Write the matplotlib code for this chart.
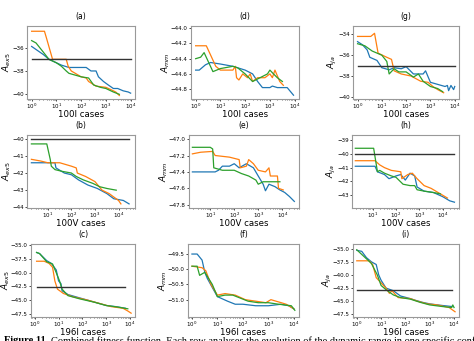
import numpy as np
import matplotlib
matplotlib.use("Agg")
import matplotlib.pyplot as plt

# --- row 1: 100I cases ---
a_blue_x = [1, 1.6, 3, 5, 10, 16, 32, 100, 160, 250, 400, 500, 800, 1250, 2000, 3000, 5000, 8000, 10000]
a_blue_y = [-35.9, -36.2, -36.6, -37.0, -37.3, -37.5, -37.7, -37.7, -37.7, -38.0, -38.0, -38.5, -38.9, -39.2, -39.5, -39.5, -39.7, -39.8, -39.9]
a_orange_x = [1, 3.3, 4, 7, 10, 25, 30, 40, 100, 160, 200, 400, 1000, 1600, 2500, 3500]
a_orange_y = [-34.6, -34.6, -35.2, -37.0, -37.0, -37.0, -37.6, -38.0, -38.5, -38.6, -38.9, -39.3, -39.4, -39.6, -39.8, -40.1]
a_green_x = [1, 1.5, 3, 5, 10, 16, 25, 32, 100, 200, 320, 600, 1000, 2000, 3500]
a_green_y = [-35.4, -35.6, -36.4, -37.0, -37.3, -37.6, -38.0, -38.2, -38.5, -38.6, -39.2, -39.4, -39.5, -39.8, -40.0]
a_ref = -37.0

d_blue_x = [1, 1.4, 2.5, 4, 10, 32, 100, 200, 320, 500, 1000, 1260, 2000, 5000, 9000]
d_blue_y = [-44.55, -44.55, -44.48, -44.45, -44.47, -44.5, -44.55, -44.6, -44.7, -44.78, -44.78, -44.76, -44.78, -44.78, -44.88]
d_orange_x = [1, 2.7, 4, 6.5, 10, 32, 40, 45, 56, 80, 125, 160, 200, 320, 630, 1000, 1260, 1600, 2500, 3500]
d_orange_y = [-44.23, -44.23, -44.35, -44.5, -44.55, -44.55, -44.5, -44.65, -44.68, -44.6, -44.65, -44.6, -44.7, -44.65, -44.65, -44.6, -44.65, -44.55, -44.7, -44.75]
d_green_x = [1, 1.6, 2.2, 5, 10, 32, 50, 100, 200, 400, 800, 1000, 1400, 2000, 3200]
d_green_y = [-44.4, -44.38, -44.32, -44.57, -44.53, -44.5, -44.52, -44.6, -44.7, -44.65, -44.6, -44.55, -44.6, -44.65, -44.7]

g_blue_x = [1, 1.6, 2.5, 3.2, 6.3, 10, 20, 32, 63, 100, 200, 500, 630, 1000, 2000, 4000, 5000, 5600, 7000, 9000, 10000]
g_blue_y = [-34.7, -35.0, -35.5, -36.2, -36.5, -37.2, -37.4, -37.2, -37.3, -37.1, -37.8, -37.8, -37.5, -38.6, -38.8, -39.0, -38.9, -39.4, -38.9, -39.3, -39.0]
g_orange_x = [1, 3.5, 5, 7, 16, 25, 32, 63, 160, 400, 800, 1260, 2000, 3500]
g_orange_y = [-34.2, -34.2, -33.9, -35.8, -36.2, -36.4, -37.5, -37.8, -38.0, -38.5, -38.6, -39.0, -39.3, -39.6]
g_green_x = [1, 2, 4, 10, 16, 20, 32, 50, 100, 200, 320, 500, 1000, 2000, 3200]
g_green_y = [-34.9, -35.1, -35.6, -36.0, -36.6, -37.8, -37.3, -37.6, -37.6, -38.1, -37.8, -38.5, -39.0, -39.2, -39.5]
g_ref = -37.0

# --- row 2: 100V cases ---
b_blue_x = [2, 20, 22, 50, 100, 200, 500, 1260, 3200, 6300, 16000, 28000]
b_blue_y = [-41.4, -41.4, -41.7, -42.0, -42.1, -42.4, -42.7, -42.9, -43.2, -43.5, -43.6, -43.8]
b_orange_x = [2, 5, 10, 32, 100, 160, 178, 400, 1000, 2000, 4000, 6300, 10000, 12600]
b_orange_y = [-41.2, -41.3, -41.4, -41.4, -41.6, -41.7, -42.0, -42.2, -42.5, -43.0, -43.2, -43.4, -43.6, -43.8]
b_green_x = [2, 9, 12.6, 14, 20, 40, 100, 160, 320, 800, 1600, 3200, 8000]
b_green_y = [-40.3, -40.3, -41.2, -41.6, -41.8, -41.9, -42.0, -42.2, -42.4, -42.6, -42.8, -42.9, -43.0]
b_ref = -40.0

e_blue_x = [1.8, 16, 22, 32, 63, 100, 160, 320, 630, 1000, 1600, 2000, 2800, 5000, 8000, 12600, 20000, 32000]
e_blue_y = [-47.4, -47.4, -47.38, -47.33, -47.33, -47.3, -47.35, -47.3, -47.35, -47.45, -47.55, -47.63, -47.55, -47.58, -47.62, -47.65, -47.7, -47.76]
e_orange_x = [1.8, 4, 12.6, 16, 63, 160, 178, 320, 400, 630, 1000, 2000, 2800, 3200, 6300, 7000, 11000]
e_orange_y = [-47.18, -47.16, -47.15, -47.2, -47.22, -47.25, -47.35, -47.33, -47.25, -47.3, -47.38, -47.4, -47.35, -47.45, -47.45, -47.6, -47.62]
e_green_x = [1.8, 10, 12.6, 14, 32, 100, 200, 400, 800, 1000, 1600, 8000]
e_green_y = [-47.1, -47.1, -47.12, -47.35, -47.38, -47.38, -47.42, -47.45, -47.5, -47.55, -47.52, -47.52]

h_blue_x = [1.8, 12.6, 16, 32, 50, 100, 160, 250, 400, 630, 800, 1600, 4000, 10000, 20000, 32000]
h_blue_y = [-40.9, -40.9, -41.3, -41.5, -41.8, -41.6, -41.5, -41.9, -41.4, -41.6, -42.4, -42.7, -42.8, -43.1, -43.4, -43.5]
h_orange_x = [1.8, 12.6, 20, 32, 63, 160, 178, 320, 500, 800, 1600, 3200, 8000, 16000]
h_orange_y = [-40.5, -40.5, -40.8, -41.0, -41.2, -41.3, -41.8, -41.5, -41.4, -41.8, -42.3, -42.5, -42.9, -43.2]
h_green_x = [1.8, 11, 16, 20, 32, 63, 100, 200, 400, 630, 800, 1600, 4000, 8000]
h_green_y = [-39.6, -39.6, -41.3, -41.2, -41.4, -41.6, -41.7, -42.2, -42.3, -42.3, -42.6, -42.7, -42.8, -42.9]
h_ref = -40.0

# --- row 3: 196I cases ---
c_blue_x = [1.2, 1.6, 3.2, 5, 8, 10, 12.6, 14, 25, 63, 160, 400, 1000, 2500, 6300]
c_blue_y = [-36.3, -36.5, -37.8, -38.3, -39.5, -41.5, -42.0, -43.3, -44.0, -44.5, -45.0, -45.5, -46.0, -46.2, -46.5]
c_orange_x = [1.2, 2.5, 4, 5.6, 7, 9, 16, 40, 160, 500, 1600, 5000, 8000, 11000]
c_orange_y = [-37.9, -37.9, -38.3, -39.0, -41.5, -43.0, -43.8, -44.4, -45.0, -45.6, -46.2, -46.5, -47.0, -47.4]
c_green_x = [1.2, 1.6, 3.2, 5.6, 8, 11, 14, 25, 80, 320, 1000, 3200, 8000]
c_green_y = [-36.3, -36.5, -38.0, -38.4, -40.0, -41.5, -43.0, -44.2, -44.8, -45.4, -46.0, -46.3, -46.6]
c_ref = -42.7

f_blue_x = [1, 1.6, 2.5, 3.2, 4, 6.3, 10, 25, 50, 100, 320, 1000, 3200, 6300, 10000]
f_blue_y = [-49.5, -49.5, -49.7, -50.1, -50.3, -50.6, -50.9, -51.05, -51.15, -51.15, -51.2, -51.2, -51.15, -51.2, -51.3]
f_orange_x = [1, 2.5, 3.5, 5.6, 10, 20, 50, 125, 320, 800, 1260, 3200, 5000, 10000]
f_orange_y = [-49.9, -49.95, -50.05, -50.5, -50.85, -50.8, -50.85, -51.0, -51.05, -51.1, -51.0, -51.1, -51.15, -51.3]
f_green_x = [1, 1.6, 2, 3.2, 6.3, 10, 20, 40, 80, 160, 400, 1000, 2500, 8000, 11000]
f_green_y = [-49.9, -49.9, -50.2, -50.1, -50.5, -50.9, -50.85, -50.85, -50.95, -51.05, -51.1, -51.1, -51.15, -51.2, -51.35]

i_blue_x = [1, 1.6, 2.5, 4, 6.3, 8, 10, 16, 32, 63, 160, 250, 500, 1000, 3200, 8000]
i_blue_y = [-35.3, -35.5, -36.7, -37.5, -38.0, -40.0, -41.0, -42.5, -43.0, -44.0, -44.5, -44.8, -45.2, -45.5, -45.8, -46.0]
i_orange_x = [1, 3.2, 4.5, 6.3, 10, 16, 22, 28, 50, 160, 320, 800, 2000, 6300, 11000]
i_orange_y = [-37.3, -37.3, -38.0, -40.5, -41.5, -42.5, -43.5, -43.0, -44.3, -44.5, -45.0, -45.5, -45.7, -46.2, -47.0]
i_green_x = [1, 2, 4, 7, 10, 16, 32, 63, 160, 400, 1000, 3200, 8000, 8900, 10000]
i_green_y = [-35.2, -36.5, -37.8, -40.0, -42.0, -42.8, -43.8, -44.3, -44.6, -45.2, -45.7, -46.0, -46.2, -45.7, -46.2]
i_ref = -42.8

titles = ["(a)", "(b)", "(c)", "(d)", "(e)", "(f)", "(g)", "(h)", "(i)"]
xlabels = ["100I cases", "100V cases", "196I cases"]
ylabels = [r"$A_{ex5}$", r"$A_{mm}$", r"$A_{ja}$"]

panels = [
    # (blue, orange, green, reference, xlim, ylim, yticks)
    (a_blue_x, a_blue_y, a_orange_x, a_orange_y, a_green_x, a_green_y, a_ref,
     (0.65, 15000), (-40.4, -34.15), [-40, -38, -36]),
    (b_blue_x, b_blue_y, b_orange_x, b_orange_y, b_green_x, b_green_y, b_ref,
     (1.3, 50000), (-44.04, -39.78), [-44, -43, -42, -41, -40]),
    (c_blue_x, c_blue_y, c_orange_x, c_orange_y, c_green_x, c_green_y, c_ref,
     (0.7, 16000), (-48.1, -34.75), [-47.5, -45.0, -42.5, -40.0, -37.5, -35.0]),
    (d_blue_x, d_blue_y, d_orange_x, d_orange_y, d_green_x, d_green_y, None,
     (0.65, 15000), (-44.93, -43.97), [-44.8, -44.6, -44.4, -44.2, -44.0]),
    (e_blue_x, e_blue_y, e_orange_x, e_orange_y, e_green_x, e_green_y, None,
     (1.3, 50000), (-47.84, -46.95), [-47.8, -47.6, -47.4, -47.2, -47.0]),
    (f_blue_x, f_blue_y, f_orange_x, f_orange_y, f_green_x, f_green_y, None,
     (0.7, 16000), (-51.57, -49.17), [-51.0, -50.5, -50.0, -49.5]),
    (g_blue_x, g_blue_y, g_orange_x, g_orange_y, g_green_x, g_green_y, g_ref,
     (0.65, 15000), (-40.2, -33.2), [-40, -38, -36, -34]),
    (h_blue_x, h_blue_y, h_orange_x, h_orange_y, h_green_x, h_green_y, h_ref,
     (1.3, 50000), (-43.92, -38.64), [-43, -42, -41, -40, -39]),
    (i_blue_x, i_blue_y, i_orange_x, i_orange_y, i_green_x, i_green_y, i_ref,
     (0.7, 16000), (-48.0, -34.1), [-47.5, -45.0, -42.5, -40.0, -37.5, -35.0]),
]

W, H = 474, 341
# pixel edges of each panel frame: left per panel, right per column
lefts = [27, 27, 31, 191, 189, 188, 353, 352, 353]
rights = [135, 299, 459]
row_tb = [(26, 99), (135, 208), (244, 317)]

plt.rcParams['font.family'] = 'DejaVu Sans'
plt.rcParams['mathtext.fontset'] = 'dejavusans'

fig = plt.figure(figsize=(W / 100, H / 100), dpi=100)

for k, p in enumerate(panels):
    col, row = k // 3, k % 3
    (bx, by, ox, oy, gx, gy, ref, xlim, ylim, yticks) = p
    l, r = lefts[k], rights[col]
    t, b = row_tb[row]
    ax = fig.add_axes([l / W, 1 - b / H, (r - l) / W, (b - t) / H])
    ax.set_xscale('log')
    ax.plot(bx, by, color='#1f77b4', lw=0.9)
    ax.plot(ox, oy, color='#ff7f0e', lw=0.9)
    ax.plot(gx, gy, color='#2ca02c', lw=0.9)
    if ref is not None:
        ax.plot([bx[0], bx[-1]], [ref, ref], color='#333333', lw=1.0)
    ax.set_xlim(*xlim)
    ax.set_ylim(*ylim)
    ax.set_yticks(yticks)
    if row == 2 or col == 1:
        ax.set_yticklabels([f"{v:.1f}".replace('-', '\u2212') for v in yticks])
    ax.set_title(titles[k], fontsize=5.5, pad=5)
    ax.set_xlabel(xlabels[row], fontsize=6.2, labelpad=-1)
    ax.set_ylabel(ylabels[col], fontsize=6.5, labelpad=-0.5)
    ax.tick_params(labelsize=4, length=1.5, width=0.5, pad=0.8)
    ax.tick_params(which='minor', length=0.8, width=0.4)
    for s in ax.spines.values():
        s.set_color('#999999')
        s.set_linewidth(0.8)

# caption below the grid, bold figure number followed by plain text
cap_y = 1 - 336 / H
lead = fig.text(0.008, cap_y, "Figure 11.", family='Liberation Serif',
                fontsize=7.5, weight='bold', va='top', ha='left')
fig.canvas.draw()
bb = lead.get_window_extent().transformed(fig.transFigure.inverted())
fig.text(bb.x1 + 0.006, cap_y,
         "Combined fitness function. Each row analyses the evolution of the dynamic range in one specific configuration",
         family='Liberation Serif', fontsize=7.5, va='top', ha='left')

fig.savefig("out.png", dpi=100)
